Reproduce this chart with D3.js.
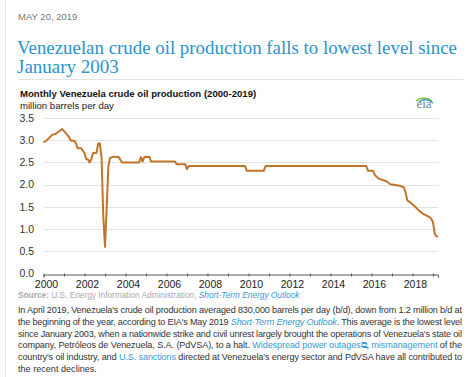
<!DOCTYPE html>
<html>
<head>
<meta charset="utf-8">
<script src="https://cdn.jsdelivr.net/npm/d3@7"></script>
<style>
  body { margin: 0; background: #fff; }
  svg { display: block; font-family: "Liberation Sans", Arial, sans-serif; }
</style>
</head>
<body>
<svg id="chart" width="474" height="377"></svg>
<script>
// monthly production, million barrels per day (breakpoints)
const months = [
  '2000-01', '2000-03', '2000-06', '2000-08', '2000-10', '2000-12',
  '2001-02', '2001-04', '2001-05', '2001-07', '2001-08', '2001-09', '2001-11',
  '2002-01', '2002-02', '2002-03', '2002-04', '2002-05', '2002-06', '2002-08',
  '2002-09', '2002-10', '2002-11', '2002-12',
  '2003-01', '2003-02', '2003-03', '2003-04', '2003-06', '2003-09', '2003-11',
  '2004-09', '2004-10', '2004-11', '2004-12',
  '2005-03', '2005-04', '2006-06', '2006-07', '2006-12',
  '2007-01', '2007-02', '2009-11', '2009-12', '2010-10', '2010-11',
  '2015-10', '2015-11', '2016-02', '2016-03', '2016-05', '2016-08', '2016-10', '2016-12',
  '2017-03', '2017-06', '2017-08', '2017-09', '2017-10', '2017-12',
  '2018-03', '2018-05', '2018-07', '2018-09', '2018-11', '2018-12',
  '2019-01', '2019-02', '2019-03', '2019-04'
];
const production = [
  2.95, 3.00, 3.12, 3.14, 3.20, 3.25,
  3.16, 3.07, 2.99, 2.99, 2.93, 2.82, 2.82,
  2.71, 2.57, 2.57, 2.50, 2.57, 2.71, 2.71,
  2.92, 2.93, 2.60, 1.30,
  0.60, 1.50, 2.40, 2.60, 2.63, 2.62, 2.50,
  2.50, 2.62, 2.52, 2.62,
  2.63, 2.52, 2.52, 2.46, 2.46,
  2.35, 2.42, 2.42, 2.31, 2.31, 2.42,
  2.42, 2.31, 2.31, 2.22, 2.14, 2.10, 2.07, 2.01,
  1.99, 1.97, 1.94, 1.82, 1.65, 1.59,
  1.49, 1.41, 1.35, 1.31, 1.27, 1.23,
  1.16, 0.90, 0.84, 0.83
];
const yTicks = [0, 0.5, 1, 1.5, 2, 2.5, 3, 3.5];
const xLabelYears = [2000, 2002, 2004, 2006, 2008, 2010, 2012, 2014, 2016, 2018];

const bodyLines = [
  [['In April 2019, Venezuela\'s crude oil production averaged 830,000 barrels per day (b/d), down from 1.2 million b/d at', '']],
  [['the beginning of the year, according to EIA\'s May 2019 ', ''], ['Short-Term Energy Outlook', 'em'], ['. This average is the lowest level', '']],
  [['since January 2003, when a nationwide strike and civil unrest largely brought the operations of Venezuela\'s state oil', '']],
  [['company, Petróleos de Venezuela, S.A. (PdVSA), to a halt. ', ''], ['Widespread power outages', 'a'], ['\u29c9', 'a'], [', ', ''], ['mismanagement', 'a'], [' of the', '']],
  [['country\'s oil industry, and ', ''], ['U.S. sanctions', 'a'], [' directed at Venezuela\'s energy sector and PdVSA have all contributed to', '']],
  [['the recent declines.', '']]
];

const parseMonth = d3.timeParse('%Y-%m');
const data = months.map((m, i) => ({ date: parseMonth(m), value: production[i] }));

const svg = d3.select('#chart');
const linkBlue = '#3a9ad3';

// page frame
svg.append('line')
  .attr('x1', 5.5).attr('x2', 5.5).attr('y1', 0).attr('y2', 377)
  .attr('stroke', '#e6e6e6');

svg.append('text')
  .attr('x', 18).attr('y', 20)
  .attr('font-size', 9.5).attr('fill', '#777')
  .text('MAY 20, 2019');

const title = svg.append('text')
  .attr('font-family', '"Liberation Serif", "Times New Roman", serif')
  .attr('font-size', 19).attr('fill', '#2b93cb');
title.append('tspan').attr('x', 17).attr('y', 54)
  .attr('textLength', 440).attr('lengthAdjust', 'spacingAndGlyphs')
  .text('Venezuelan crude oil production falls to lowest level since');
title.append('tspan').attr('x', 17).attr('y', 73).text('January 2003');

svg.append('line')
  .attr('x1', 18).attr('x2', 463).attr('y1', 79.5).attr('y2', 79.5)
  .attr('stroke', '#e2e2e2');

// chart heading
svg.append('text')
  .attr('x', 20).attr('y', 97)
  .attr('font-size', 9.6).attr('font-weight', 'bold').attr('fill', '#111')
  .text('Monthly Venezuela crude oil production (2000-2019)');
svg.append('text')
  .attr('x', 20).attr('y', 108.5)
  .attr('font-size', 9.6).attr('fill', '#222')
  .text('million barrels per day');

// eia mark
const logo = svg.append('g').attr('transform', 'translate(424,108)');
logo.append('path')
  .attr('d', 'M-8,-7 Q0,-13 8,-7')
  .attr('fill', 'none').attr('stroke', '#8cc63f').attr('stroke-width', 1.6);
logo.append('path')
  .attr('d', 'M-5,-6 Q2,-11 9,-5')
  .attr('fill', 'none').attr('stroke', '#2b93cb').attr('stroke-width', 1.2);
logo.append('text')
  .attr('text-anchor', 'middle')
  .attr('font-family', '"Liberation Serif", serif')
  .attr('font-size', 13).attr('fill', '#6a7f93')
  .text('eia');

const x = d3.scaleTime()
  .domain([parseMonth('2000-01'), parseMonth('2019-04')])
  .range([43.5, 438]);
const y = d3.scaleLinear()
  .domain([0, 3.5])
  .range([273.5, 118]);

// gridlines
svg.append('g')
  .selectAll('line')
  .data(yTicks.filter(d => d > 0))
  .join('line')
  .attr('x1', x.range()[0]).attr('x2', x.range()[1])
  .attr('y1', d => Math.round(y(d)) + 0.5).attr('y2', d => Math.round(y(d)) + 0.5)
  .attr('stroke', '#e3e3e3');

// y labels
svg.append('g')
  .selectAll('text')
  .data(yTicks)
  .join('text')
  .attr('x', 34).attr('y', d => y(d) + 3.8)
  .attr('text-anchor', 'end')
  .attr('font-size', 10.5).attr('fill', '#333')
  .text(d => d3.format('.1f')(d));

// x axis with yearly ticks
const xAxis = svg.append('g')
  .attr('transform', `translate(0,${Math.round(y(0)) + 0.5})`)
  .call(d3.axisBottom(x)
    .ticks(d3.timeYear.every(1))
    .tickSize(3)
    .tickFormat(''));
xAxis.select('.domain').attr('stroke', '#555');
xAxis.selectAll('.tick line').attr('stroke', '#555').attr('transform', 'translate(0,-1)');

svg.append('g')
  .selectAll('text')
  .data(xLabelYears)
  .join('text')
  .attr('x', d => x(new Date(d, 0, 1)) + 3)
  .attr('y', 287.5)
  .attr('text-anchor', 'middle')
  .attr('font-size', 10.5).attr('fill', '#222')
  .text(d => d);

// production line
const line = d3.line()
  .x(d => x(d.date))
  .y(d => y(d.value));
svg.append('path')
  .datum(data)
  .attr('d', line)
  .attr('fill', 'none')
  .attr('stroke', '#c0742c')
  .attr('stroke-width', 2)
  .attr('stroke-linejoin', 'round');

// source
const src = svg.append('text')
  .attr('x', 18).attr('y', 297.5)
  .attr('font-size', 8.3).attr('fill', '#aaa');
src.append('tspan').attr('font-weight', 'bold').text('Source:');
src.append('tspan').text(' U.S. Energy Information Administration, ');
src.append('tspan').attr('font-style', 'italic').attr('fill', linkBlue).text('Short-Term Energy Outlook');

// body text
bodyLines.forEach((parts, i) => {
  const t = svg.append('text')
    .attr('x', 18).attr('y', 313 + i * 11.8)
    .attr('font-size', 9.1).attr('fill', '#333');
  parts.forEach(([s, kind]) => {
    const sp = t.append('tspan').text(s);
    if (kind === 'a') sp.attr('fill', linkBlue);
    if (kind === 'em') sp.attr('fill', linkBlue).attr('font-style', 'italic');
  });
  if (i < bodyLines.length - 1) {
    t.attr('textLength', 444).attr('lengthAdjust', 'spacing');
  }
});
</script>
</body>
</html>
